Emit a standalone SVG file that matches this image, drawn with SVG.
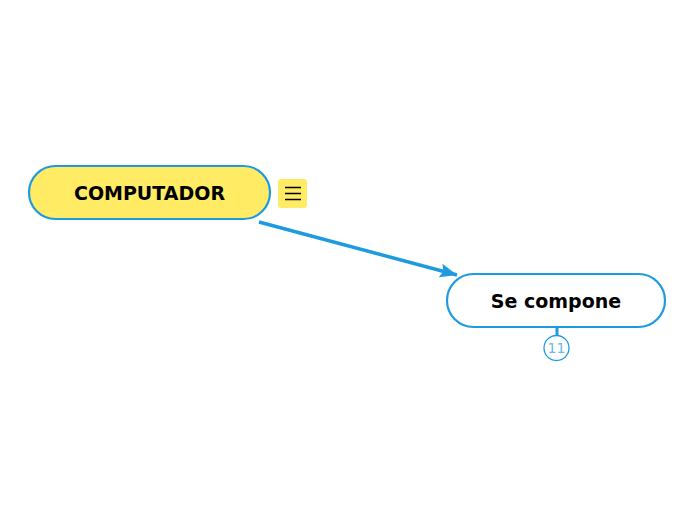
<svg xmlns="http://www.w3.org/2000/svg" width="696" height="520" viewBox="0 0 696 520">
<style>
.node{stroke:#1E9AE0;stroke-width:2.2}
.lbl{font-family:"DejaVu Sans",Verdana,sans-serif;font-weight:bold;font-size:19px;fill:#000;text-anchor:middle}
.conn{stroke:#1E9AE0;stroke-width:3.5;fill:none}
</style>
<defs>
<marker id="ah" markerUnits="userSpaceOnUse" markerWidth="20" markerHeight="16" refX="17" refY="8" orient="auto">
<path d="M0,1 L17,8 L0,15 L3,8 Z" fill="#1E9AE0"/>
</marker>
</defs>
<rect width="696" height="520" fill="#fff"/>
<g id="connectors">
<line class="conn" x1="259" y1="222" x2="457" y2="275" marker-end="url(#ah)"/>
</g>
<g id="computador">
<rect class="node" x="29" y="166" width="241" height="53" rx="26.5" fill="#FFEB64"/>
<text class="lbl" x="149.5" y="200">COMPUTADOR</text>
</g>
<g id="menu-icon">
<rect x="278" y="179" width="29" height="29" rx="3" fill="#FFEB64"/>
<path d="M285,187.5 H301 M285,193.5 H301 M285,199.5 H301" stroke="#000" stroke-width="1.6"/>
</g>
<g id="se-compone">
<rect class="node" x="447" y="274" width="218" height="53" rx="26.5" fill="#fff"/>
<text class="lbl" x="556" y="308">Se compone</text>
</g>
<g id="badge">
<line x1="557" y1="328" x2="557" y2="335" stroke="#1E9AE0" stroke-width="3"/>
<circle cx="556.5" cy="348" r="12.5" fill="#fff" stroke="#1E9AE0" stroke-width="1.3"/>
<text x="556.5" y="353" font-family="DejaVu Sans,Verdana,sans-serif" font-size="14" fill="#6DB8E8" text-anchor="middle">11</text>
</g>
</svg>
